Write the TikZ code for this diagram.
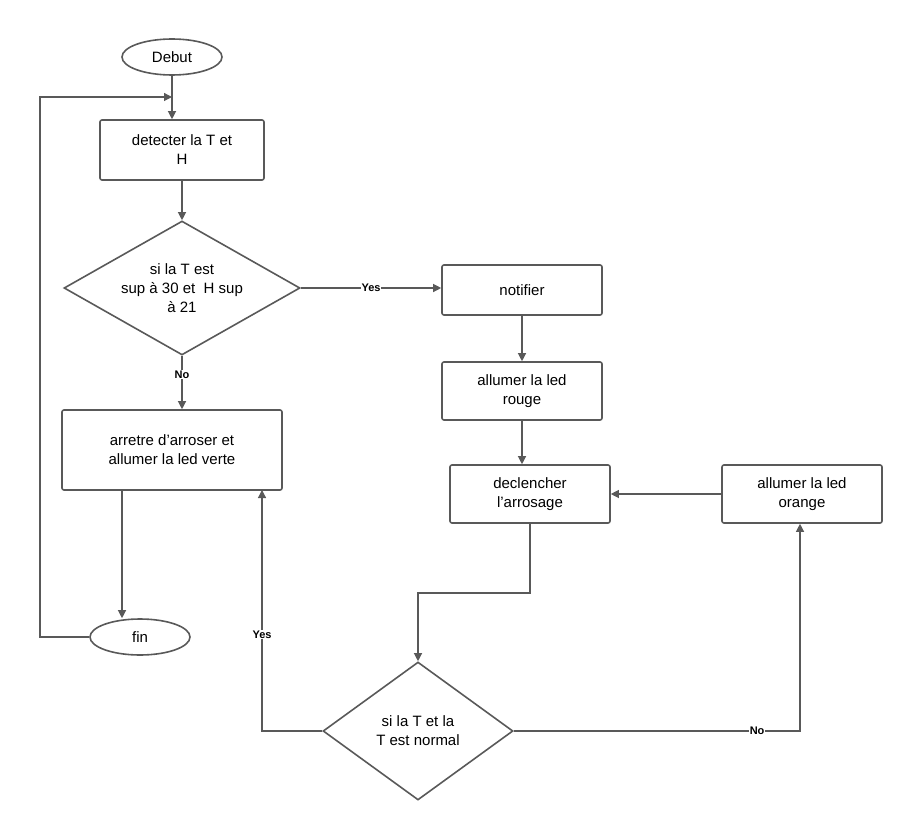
\documentclass[tikz,border=0pt]{standalone}
\usepackage{fontspec}
\setmainfont{Liberation Sans}
\usetikzlibrary{shapes.geometric,arrows.meta}
\begin{document}
\begin{tikzpicture}[x=1pt,y=-1pt,
  line/.style={draw=black!65, line width=1.6pt},
  box/.style={line, rounded corners=2pt, align=center, font=\fontsize{15}{19}\selectfont, inner sep=0pt},
  term/.style={line, ellipse, minimum width=100pt, minimum height=36pt, font=\fontsize{15}{19}\selectfont, inner sep=0pt},
  dec/.style={line, diamond, aspect=1.72, align=center, font=\fontsize{15}{19}\selectfont, inner sep=0pt},
  arr/.style={draw=black!65, line width=1.2pt, -{Triangle[length=8pt,width=8pt]}},
  lab/.style={fill=white, font=\bfseries\fontsize{11}{13}\selectfont, inner sep=1pt}]
\useasboundingbox (0,0) rectangle (923,840);
% nodes
\node[term] (debut) at (172,57) {Debut};
\node[box, minimum width=164pt, minimum height=60pt] (det) at (182,150) {detecter la T et\\H};
\node[dec, minimum width=236pt, minimum height=134pt] (d1) at (182,288) {si la T est\\sup à 30 et~~H sup\\à 21};
\node[box, minimum width=160pt, minimum height=50pt] (notif) at (522,290) {notifier};
\node[box, minimum width=160pt, minimum height=58pt] (rouge) at (522,391) {allumer la led\\rouge};
\node[box, minimum width=160pt, minimum height=58pt] (decl) at (530,494) {declencher\\l'arrosage};
\node[box, minimum width=160pt, minimum height=58pt] (orange) at (802,494) {allumer la led\\orange};
\node[box, minimum width=220pt, minimum height=80pt] (arr) at (172,450) {arretre d'arroser et\\allumer la led verte};
\node[term] (fin) at (140,637) {fin};
\node[dec, minimum width=190pt, minimum height=138pt] (d2) at (418,731) {si la T et la\\T est normal};
\coordinate (top) at (172,97);
% connectors
\draw[arr] (debut) -- (det.north -| debut);
\draw[arr] (det) -- (d1);
\draw[arr] (d1.east) -- node[lab]{Yes} (notif.west |- d1.east);
\draw[arr] (d1) -- node[lab, pos=0.35]{No} (d1 |- arr.north);
\draw[arr] (notif) -- (rouge);
\draw[arr] (rouge.south -| notif) -- (rouge.south -| notif) -- (decl.north -| notif);
\draw[arr] (orange) -- (decl);
\draw[arr] (arr.south -| 122,0) -- (fin.north -| 122,0);
\draw[arr] (fin.west) -- (40,637) -- (40,97) -- (top);
\draw[arr] (decl.south) -- (530,593) -- (418,593) -- (d2.north);
\draw[arr] (d2.west) -- (262,731) -- node[lab, pos=0.4]{Yes} (262,490);
\draw[arr] (d2.east) -- node[lab, pos=0.85]{No} (800,731) -- (orange.south -| 800,0);
\end{tikzpicture}
\end{document}
